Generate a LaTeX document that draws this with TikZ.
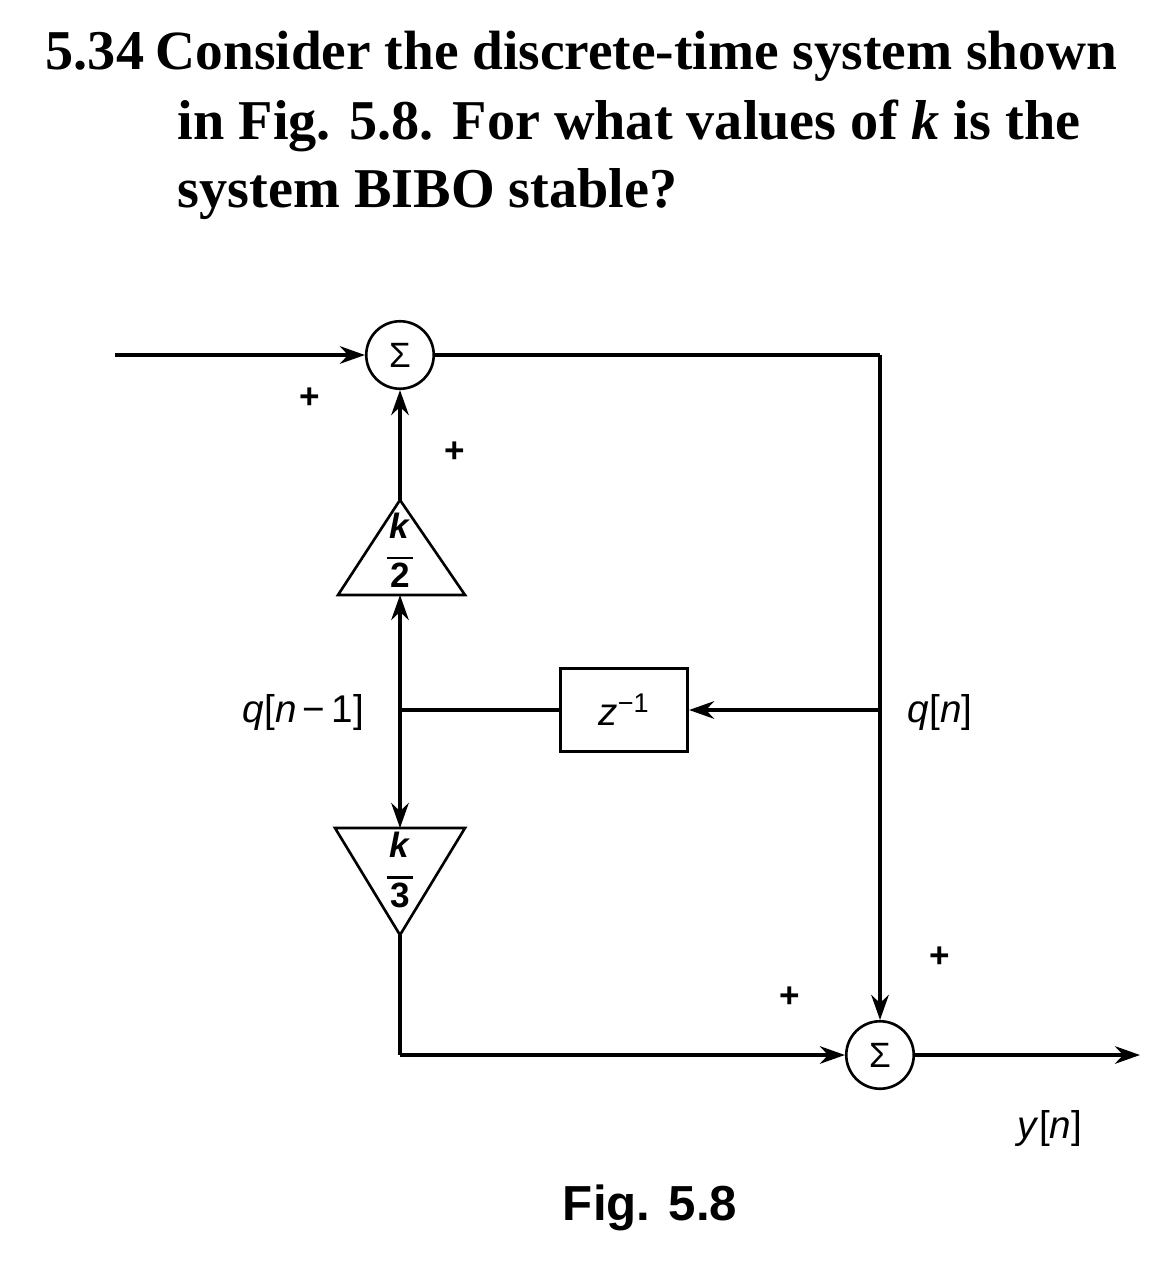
\documentclass[tikz,border=0pt]{standalone}
\usepackage{fontspec}
\setmainfont{Liberation Serif}
\setsansfont{Liberation Sans}
\usetikzlibrary{arrows.meta}
\begin{document}
\begin{tikzpicture}[x=0.02cm,y=-0.02cm,
    line width=2.2pt, >={Stealth[length=5mm,width=3.5mm]},
    sumnode/.style={draw,circle,line width=1.5pt,minimum size=1.35cm,inner sep=0,font=\sffamily\fontsize{20}{20}\selectfont},
    lbl/.style={font=\sffamily\fontsize{22}{22}\selectfont},
    gain/.style={font=\sffamily\bfseries\fontsize{20}{20}\selectfont,inner sep=0,align=center},
    sgn/.style={font=\sffamily\bfseries\fontsize{20}{20}\selectfont},
    txt/.style={anchor=base west,font=\bfseries\fontsize{32}{32}\selectfont}
  ]
  \useasboundingbox (0,0) rectangle (1166,1280);
  % problem text
  \node[txt] (num) at (38,70) {5.34};
  \node[txt,font=\bfseries\fontsize{31.5}{32}\selectfont] (l1) at (148,70) {Consider the discrete-time system shown};
  \node[txt] (l2) at (170,140) {in Fig. 5.8. For what values of \textit{k} is the};
  \node[txt] (l3) at (170,208) {system BIBO stable?};
  % blocks
  \node[sumnode] (s1) at (400,355) {Σ};
  \node[sumnode] (s2) at (880,1055) {Σ};
  \node[draw,line width=1.5pt,minimum width=2.55cm,minimum height=1.65cm,lbl] (dly) at (624,710) {\textit{z}\textsuperscript{−1}};
  \coordinate (in) at (115,355);
  \coordinate (out) at (1140,1055);
  \coordinate (tr) at (880,355);
  \coordinate (jn) at (400,710);
  \coordinate (tap) at (880,710);
  \coordinate (bl) at (400,1055);
  % gain k/2
  \coordinate (g1tip) at (400,500);
  \coordinate (g1base) at (400,595);
  \draw[line width=1.5pt] (g1tip) -- (465,595) -- (338,595) -- cycle;
  \node[gain] (g1) at (400,550) {\textit{k}\\[-8pt]\rule{15pt}{1.5pt}\\[-4pt]2};
  % gain k/3
  \coordinate (g2base) at (400,828);
  \coordinate (g2tip) at (400,935);
  \draw[line width=1.5pt] (335,828) -- (465,828) -- (g2tip) -- cycle;
  \node[gain] (g2) at (400,870) {\textit{k}\\[-8pt]\rule{15pt}{1.5pt}\\[-4pt]3};
  % connections
  \draw[->] (in) -- (s1);
  \draw (s1) -- (tr);
  \draw[->] (tr) -- (s2);
  \draw[->] (g1tip) -- (s1);
  \draw[->] (jn) -- (g1base);
  \draw[->] (jn) -- (g2base);
  \draw (dly) -- (jn);
  \draw[->] (tap) -- (dly);
  \draw (g2tip) -- (bl);
  \draw[->] (bl) -- (s2);
  \draw[->] (s2) -- (out);
  % labels
  \node[lbl,anchor=east] (qn1) at (372,712) {\textit{q}[\textit{n}\,−\,1]};
  \node[lbl,anchor=west] (qn) at (900,712) {\textit{q}[\textit{n}]};
  \node[lbl] (yn) at (1050,1128) {\textit{y}[\textit{n}]};
  \node[sgn] (p1) at (310,398) {+};
  \node[sgn] (p2) at (455,452) {+};
  \node[sgn] (p3) at (790,997) {+};
  \node[sgn] (p4) at (940,957) {+};
  \node[font=\sffamily\bfseries\fontsize{28}{28}\selectfont] (cap) at (650,1208) {Fig. 5.8};
\end{tikzpicture}
\end{document}
